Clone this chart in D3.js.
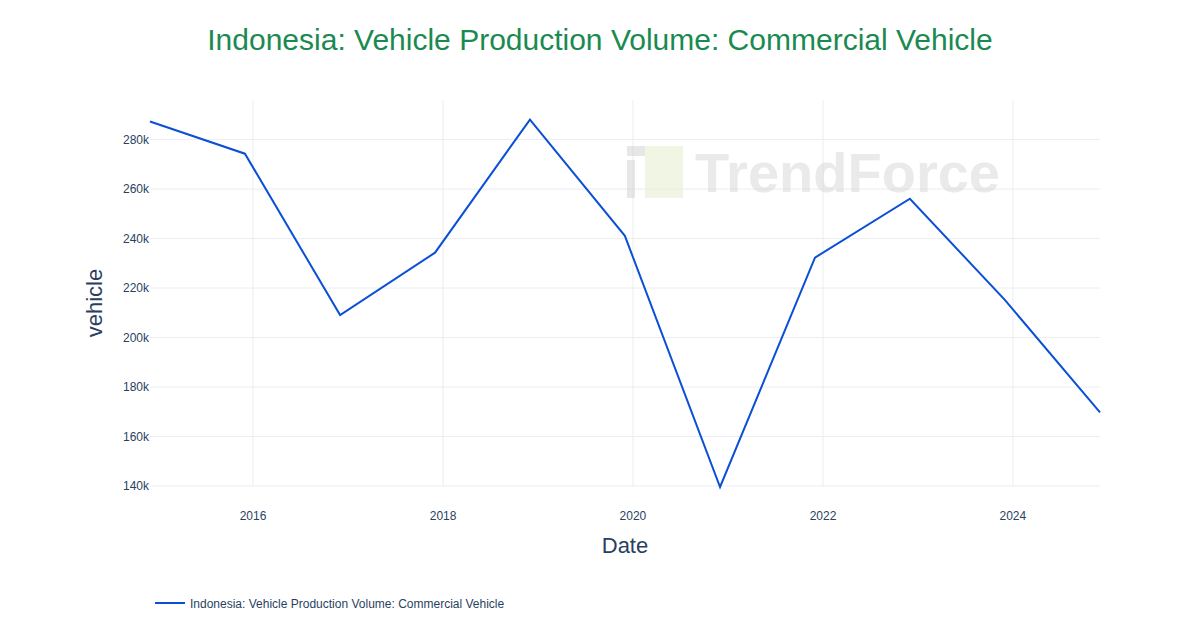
<!DOCTYPE html>
<html><head><meta charset="utf-8">
<script src="https://cdn.jsdelivr.net/npm/d3@7"></script>
<style>body{margin:0;background:#fff;font-family:"Liberation Sans",Arial,sans-serif}</style>
</head><body><svg id="c" width="1200" height="630"></svg>
<script>
// données
const dates = ["2014-12-01","2015-12-01","2016-12-01","2017-12-01","2018-12-01","2019-12-01","2020-12-01","2021-12-01","2022-12-01","2023-12-01","2024-12-01"];
const values = [287300,274300,209100,234300,288100,241100,139600,232300,256100,215200,169800];
const yTicks = [140000,160000,180000,200000,220000,240000,260000,280000];
const xTicks = ["2016","2018","2020","2022","2024"];
const title = "Indonesia: Vehicle Production Volume: Commercial Vehicle";

const svg = d3.select("#c");
const plotL = 150, plotR = 1100, plotT = 100, plotB = 487;
const parse = d3.timeParse("%Y-%m-%d");
const x = d3.scaleTime().domain([parse(dates[0]), parse(dates[dates.length-1])]).range([plotL, plotR]);
const y = d3.scaleLinear().domain([139600, 296000]).range([plotB, plotT]);

// grille
svg.append("g").selectAll("line").data(yTicks).enter().append("line")
  .attr("x1", plotL).attr("x2", plotR).attr("y1", d => y(d)).attr("y2", d => y(d))
  .attr("stroke", "#ebedf0");
svg.append("g").selectAll("line").data(xTicks).enter().append("line")
  .attr("x1", d => x(new Date(+d, 0, 1))).attr("x2", d => x(new Date(+d, 0, 1)))
  .attr("y1", plotT).attr("y2", plotB).attr("stroke", "#ebedf0");

// filigrane
const wm = svg.append("g").attr("opacity", 0.5);
wm.append("rect").attr("x", 627).attr("y", 146).attr("width", 34).attr("height", 10).attr("fill", "#d0d0d0");
wm.append("rect").attr("x", 627).attr("y", 160).attr("width", 8).attr("height", 38).attr("fill", "#d0d0d0");
wm.append("rect").attr("x", 645).attr("y", 146).attr("width", 38).attr("height", 52).attr("fill", "#e4eecb");
wm.append("text").attr("x", 695).attr("y", 192).text("TrendForce")
  .attr("font-size", 56).attr("font-weight", "bold").attr("fill", "#d6d6d6");

// axes labels
svg.append("g").selectAll("text").data(yTicks).enter().append("text")
  .attr("x", plotL - 1).attr("y", d => y(d) + 4).attr("text-anchor", "end")
  .attr("font-size", 12).attr("fill", "#2a3f5f").text(d => d / 1000 + "k");
svg.append("g").selectAll("text").data(xTicks).enter().append("text")
  .attr("x", d => x(new Date(+d, 0, 1))).attr("y", 520).attr("text-anchor", "middle")
  .attr("font-size", 12).attr("fill", "#2a3f5f").text(d => d);

// ligne
const line = d3.line().x((d, i) => x(parse(dates[i]))).y(d => y(d));
svg.append("path").datum(values).attr("d", line).attr("fill", "none")
  .attr("stroke", "#0a4fd6").attr("stroke-width", 2);

svg.append("text").attr("x", 600).attr("y", 50).attr("text-anchor", "middle")
  .attr("font-size", 30).attr("fill", "#1a8a50").text(title);
svg.append("text").attr("x", 625).attr("y", 553).attr("text-anchor", "middle")
  .attr("font-size", 22).attr("fill", "#2a3f5f").text("Date");
svg.append("text").attr("transform", "translate(102,303) rotate(-90)").attr("text-anchor", "middle")
  .attr("font-size", 22).attr("fill", "#2a3f5f").text("vehicle");

// légende
svg.append("line").attr("x1", 155).attr("x2", 185).attr("y1", 603).attr("y2", 603)
  .attr("stroke", "#0a4fd6").attr("stroke-width", 2);
svg.append("text").attr("x", 190).attr("y", 608).attr("font-size", 12).attr("fill", "#2a3f5f").text(title);
</script></body></html>
